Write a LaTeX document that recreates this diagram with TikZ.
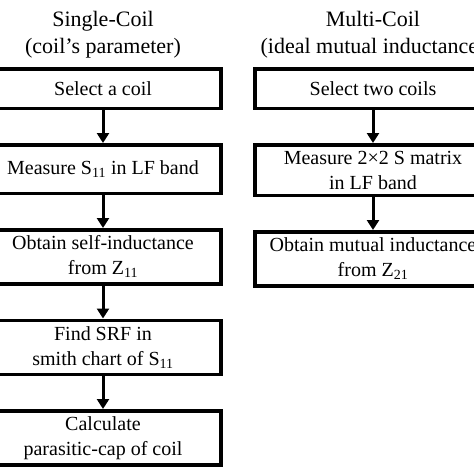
\documentclass[tikz,border=0pt]{standalone}
\usepackage{fontspec}
\setmainfont{Liberation Serif}
\usetikzlibrary{arrows.meta,positioning}
\tikzset{
    %Define standard arrow tip
    >={Triangle[width=12pt,length=10pt]},
    %Define style for boxes
    stepbox/.style={
           rectangle,
           draw=black, line width=3.5pt,
           minimum width=236pt,
           minimum height=39.5pt,
           align=center,
           font=\fontsize{20}{25}\selectfont},
    twoline/.style={
           stepbox,
           minimum height=54pt},
    headline/.style={
           align=center,
           font=\fontsize{22}{27}\selectfont},
    % Define arrow style
    pil/.style={
           ->,
           line width=3pt}
}

\begin{document}
\begin{tikzpicture}[x=1pt,y=1pt,node distance=33pt]
\fill[white] (0,0) rectangle (474,-474);
\useasboundingbox (0,0) rectangle (474,-474);
 %single coil
\node[stepbox](s1) at (103,-88.5){Select a coil};
\node[stepbox, below=of s1, minimum height=48.5pt](s2){Measure S\textsubscript{11} in LF band};
\node[twoline, below=of s2](s3){Obtain self-inductance\\from Z\textsubscript{11}};
\node[twoline, below=of s3](s4){Find SRF in\\smith chart of S\textsubscript{11}};
\node[twoline, below=of s4](s5){Calculate\\parasitic-cap of coil};
\node[headline, above=5pt of s1](h1){Single-Coil\\(coil’s parameter)};
 %multi coil
\node[stepbox](m1) at (373,-88.5){Select two coils};
\node[twoline, below=of m1, minimum height=50.5pt](m2){Measure 2×2 S matrix\\in LF band};
\node[twoline, below=of m2](m3){Obtain mutual inductance\\from Z\textsubscript{21}};
\node[headline, above=5pt of m1](h2){Multi-Coil\\(ideal mutual inductance)};
 %arrows
 \path[pil]
   (s1) edge (s2)
   (s2) edge (s3)
   (s3) edge (s4)
   (s4) edge (s5)
   (m1) edge (m2)
   (m2) edge (m3);
\end{tikzpicture}
\end{document}
